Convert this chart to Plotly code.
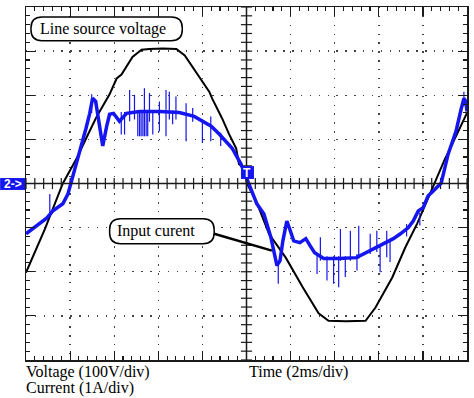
import numpy as np
import plotly.graph_objects as go

# ---- data ----
# time in ms (2 ms/div), voltage in V (100 V/div), current in A (1 A/div)
volt_t = [0.00, 0.86, 1.67, 2.30, 2.80, 3.21, 3.79, 4.11, 4.33, 4.83, 5.24, 5.60,
          6.20, 6.82, 7.20, 7.54, 7.72, 8.31, 8.44, 8.89, 9.21, 9.53, 9.66, 9.89,
          10.02, 10.43, 11.02, 11.78, 12.55, 13.27, 13.72, 14.50, 15.40, 15.85,
          16.61, 17.20, 17.74, 18.51, 19.01, 19.14, 20.00]
volt_v = [-202, -103, 0, 57, 110, 152, 202, 238, 247, 287, 303, 305,
          306, 305, 290, 265, 254, 208, 193, 148, 112, 80, 44, 35,
          0, -39, -114, -168, -235, -294, -311, -312, -311, -281,
          -213, -145, -91, 0, 57, 69, 160]

curr_t = [0.00, 0.50, 0.95, 1.22, 1.67, 1.90, 2.03, 2.17, 2.44, 2.71, 2.89, 3.02,
          3.16, 3.30, 3.48, 3.66, 3.79, 3.97, 4.24, 4.56, 5.15, 6.05, 6.95, 7.63,
          7.99, 8.40, 8.76, 9.12, 9.35, 9.75, 10.02, 10.20, 10.47, 10.79, 11.11,
          11.38, 11.52, 11.65, 11.83, 11.96, 12.14, 12.42, 12.69, 12.91, 13.09,
          13.50, 14.18, 14.99, 15.62, 16.21, 16.66, 16.98, 17.34, 17.56, 17.79,
          18.01, 18.24, 18.47, 18.83, 19.14, 19.50, 19.73, 19.86, 19.95, 20.00]
curr_i = [-1.14, -0.96, -0.78, -0.62, -0.46, -0.24, -0.01, 0.21, 0.73, 1.23, 1.59, 1.93,
          1.86, 1.41, 0.85, 1.30, 1.57, 1.59, 1.41, 1.59, 1.63, 1.63, 1.61, 1.52,
          1.41, 1.30, 1.12, 0.94, 0.80, 0.44, 0.10, -0.17, -0.46, -0.69, -1.23,
          -1.86, -1.75, -1.30, -0.85, -1.03, -1.30, -1.34, -1.25, -1.43, -1.57,
          -1.70, -1.70, -1.68, -1.52, -1.36, -1.25, -1.14, -1.00, -0.85, -0.62,
          -0.55, -0.28, -0.17, 0.01, 0.66, 1.18, 1.68, 1.93, 1.86, 1.63]

# switching-noise spikes on the current trace: time, low end, high end
spike_t = [1.08, 2.98, 4.32, 4.47, 4.70, 4.92, 5.07, 5.15, 5.22, 5.30, 5.37, 5.45,
           5.52, 5.60, 5.75, 6.05, 6.35, 6.50, 6.65, 6.80, 7.26, 7.56, 8.00, 8.38,
           8.83, 11.44, 13.20, 13.35, 13.65, 13.95, 14.18, 14.26, 14.48, 14.71,
           15.01, 15.09, 15.61, 15.91, 16.06, 16.36, 16.51, 17.26, 17.86, 19.86]
spike_lo = [-0.70, 1.60, 1.11, 1.11, 1.41, 1.45, 1.07, 1.07, 1.07, 1.07, 1.07, 1.07,
            1.07, 1.40, 1.11, 1.18, 1.07, 1.45, 1.34, 1.45, 0.96, 1.40, 0.92, 0.96,
            0.85, -2.27, -2.05, -1.75, -2.20, -2.27, -2.35, -1.75, -2.12, -1.75,
            -1.97, -1.70, -1.60, -1.55, -2.01, -1.67, -1.78, -1.20, -0.95, 1.75]
spike_hi = [-0.24, 2.02, 1.62, 1.62, 2.12, 2.01, 1.66, 1.66, 1.66, 1.66, 2.16, 1.66,
            1.66, 2.05, 1.66, 1.86, 2.12, 2.08, 1.66, 1.97, 1.82, 1.71, 1.45, 1.52,
            1.15, -1.80, -1.60, -1.22, -1.65, -1.65, -1.65, -1.03, -1.65, -1.07,
            -1.60, -0.96, -1.14, -1.07, -1.40, -1.07, -1.25, -0.92, -0.66, 2.08]

# ---- layout helpers (pixel geometry of the screen) ----
W, H = 474, 398
ML, MR, MT, MB = 26, 5, 5, 38
PW, PH = W - ML - MR, H - MT - MB


def px(x, y):
    return (x - ML) / PW, (H - MB - y) / PH


def rounded_path(x0, y0, x1, y1, r):
    pts = [
        ("M", [(x0 + r, y0)]), ("L", [(x1 - r, y0)]), ("Q", [(x1, y0), (x1, y0 + r)]),
        ("L", [(x1, y1 - r)]), ("Q", [(x1, y1), (x1 - r, y1)]), ("L", [(x0 + r, y1)]),
        ("Q", [(x0, y1), (x0, y1 - r)]), ("L", [(x0, y0 + r)]), ("Q", [(x0, y0), (x0 + r, y0)]),
    ]
    s = ""
    for cmd, ps in pts:
        s += cmd + " " + " ".join("%.5f,%.5f" % px(a, b) for a, b in ps) + " "
    return s + "Z"


BLUE = "#1515f0"
INK = "#1a1a1a"

fig = go.Figure()

# spikes
sx, sy = [], []
for t, lo, hi in zip(spike_t, spike_lo, spike_hi):
    sx += [t, t, None]
    sy += [lo, hi, None]

fig.add_trace(go.Scatter(x=volt_t, y=volt_v, mode="lines", hoverinfo="skip",
                         line=dict(color="black", width=2), yaxis="y"))
fig.add_trace(go.Scatter(x=sx, y=sy, mode="lines", hoverinfo="skip",
                         line=dict(color=BLUE, width=1.2), yaxis="y2"))
fig.add_trace(go.Scatter(x=curr_t, y=curr_i, mode="lines", hoverinfo="skip",
                         line=dict(color=BLUE, width=3.5), yaxis="y2"))

# centre-axis graticule ticks
cx = np.arange(0, 20.001, 0.4)
fig.add_trace(go.Scatter(x=cx, y=np.zeros_like(cx), mode="markers", yaxis="y",
                         hoverinfo="skip",
                         marker=dict(symbol="line-ns", size=8,
                                     line=dict(color=INK, width=1.2))))
cy = np.arange(-400, 400.001, 20)
fig.add_trace(go.Scatter(x=np.full_like(cy, 10.0), y=cy, mode="markers", yaxis="y",
                         hoverinfo="skip",
                         marker=dict(symbol="line-ew", size=8,
                                     line=dict(color=INK, width=1.2))))

shapes = [
    dict(type="line", xref="x", yref="y", x0=0, x1=20, y0=0, y1=0,
         line=dict(color=INK, width=1.5)),
    dict(type="line", xref="x", yref="y", x0=10, x1=10, y0=-400, y1=400,
         line=dict(color=INK, width=1.5)),
    # callout boxes
    dict(type="path", xref="paper", yref="paper", path=rounded_path(31, 15, 183, 39, 11),
         line=dict(color="black", width=1.5), fillcolor="white", layer="above"),
    dict(type="path", xref="paper", yref="paper", path=rounded_path(110, 218, 215, 243, 11),
         line=dict(color="black", width=1.5), fillcolor="white", layer="above"),
    dict(type="line", xref="paper", yref="paper",
         x0=px(215, 233)[0], y0=px(215, 233)[1], x1=px(273, 250)[0], y1=px(273, 250)[1],
         line=dict(color="black", width=2.5), layer="above"),
    # channel marker and trigger marker
    dict(type="rect", xref="paper", yref="paper",
         x0=px(0, 177)[0], y0=px(0, 177)[1], x1=px(25, 189)[0], y1=px(25, 189)[1],
         line=dict(width=0), fillcolor=BLUE, layer="above"),
    dict(type="rect", xref="paper", yref="paper",
         x0=px(242, 165)[0], y0=px(242, 165)[1], x1=px(255, 178)[0], y1=px(255, 178)[1],
         line=dict(width=0), fillcolor=BLUE, layer="above"),
]

SERIF = "Liberation Serif, Times New Roman, serif"


def label(text, x, y, size=16, color="black", family=SERIF, xanchor="left"):
    fx, fy = px(x, y)
    return dict(text=text, xref="paper", yref="paper", x=fx, y=fy, xanchor=xanchor,
                yanchor="middle", showarrow=False, borderpad=0,
                font=dict(family=family, size=size, color=color))


annotations = [
    label("Line source voltage", 39, 27.5),
    label("Input curent", 116, 230.5),
    label("Voltage (100V/div)", 25, 372),
    label("Current (1A/div)", 25, 388),
    label("Time (2ms/div)", 249, 372),
    label("<b>2-></b>", 12.5, 183, size=12, color="white",
          family="Liberation Sans, Arial, sans-serif", xanchor="center"),
    label("<b>T</b>", 248.5, 171.5, size=12, color="white",
          family="Liberation Sans, Arial, sans-serif", xanchor="center"),
]

axis_common = dict(showticklabels=False, zeroline=False, showline=True,
                   linecolor=INK, linewidth=1.5, mirror="ticks",
                   ticks="inside", ticklen=9, tickwidth=1.2, tickcolor=INK,
                   showgrid=True, gridcolor="#444444", gridwidth=1.4,
                   griddash="1.4px,7.47px")

fig.update_layout(
    width=W, height=H, margin=dict(l=ML, r=MR, t=MT, b=MB),
    paper_bgcolor="white", plot_bgcolor="white", showlegend=False,
    hovermode=False,
    xaxis=dict(range=[0, 20], tick0=0, dtick=2,
               minor=dict(dtick=0.4, ticks="inside", ticklen=4, tickcolor=INK,
                          tickwidth=1.1, showgrid=False),
               **axis_common),
    yaxis=dict(range=[-400, 400], tick0=0, dtick=100,
               minor=dict(dtick=20, ticks="inside", ticklen=4, tickcolor=INK,
                          tickwidth=1.1, showgrid=False),
               **axis_common),
    yaxis2=dict(range=[-4, 4], overlaying="y", visible=False, showgrid=False),
    shapes=shapes, annotations=annotations,
)

fig.write_html("out.html", config={"displayModeBar": False, "staticPlot": True},
               post_script="document.body.style.margin='0';"
               "document.body.style.overflow='hidden';")
